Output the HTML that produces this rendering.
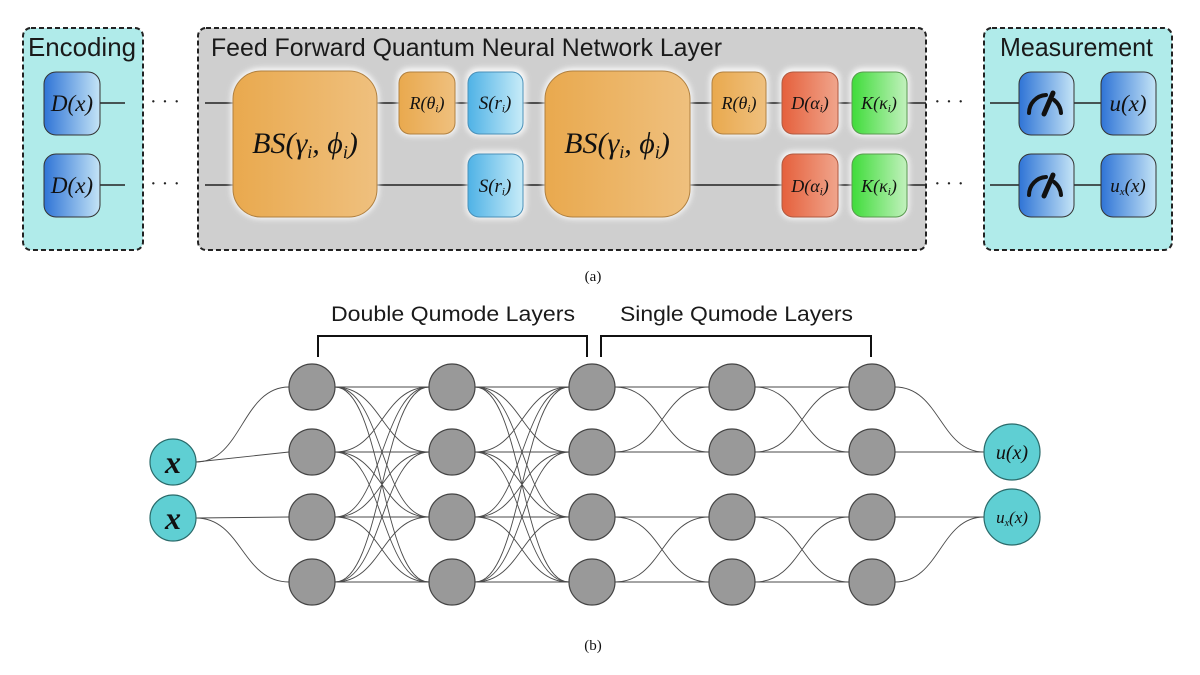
<!DOCTYPE html>
<html><head><meta charset="utf-8"><style>
html,body{margin:0;padding:0;background:#fff;}
svg{display:block;}
.m{font-family:"Liberation Serif",serif;font-style:italic;fill:#111;}
.s{font-family:"Liberation Sans",sans-serif;fill:#1a1a1a;}
.w{stroke:#222;stroke-width:1.4;fill:none;}
.e{stroke:#4a4a4a;stroke-width:0.9;fill:none;}
.n{fill:#999;stroke:#444;stroke-width:1.2;}
</style></head><body>
<svg width="1200" height="675" viewBox="0 0 1200 675" xmlns="http://www.w3.org/2000/svg">
<defs>
<linearGradient id="blue" x1="0" y1="0" x2="1" y2="0"><stop offset="0" stop-color="#2f74d6"/><stop offset="1" stop-color="#c4e4f6"/></linearGradient>
<linearGradient id="cyan" x1="0" y1="0" x2="1" y2="0"><stop offset="0" stop-color="#4fb2e6"/><stop offset="1" stop-color="#c8ecf8"/></linearGradient>
<linearGradient id="org" x1="0" y1="0" x2="1" y2="0"><stop offset="0" stop-color="#e9a94e"/><stop offset="1" stop-color="#efc07e"/></linearGradient>
<linearGradient id="red" x1="0" y1="0" x2="1" y2="0"><stop offset="0" stop-color="#e5603c"/><stop offset="1" stop-color="#f0a58c"/></linearGradient>
<linearGradient id="grn" x1="0" y1="0" x2="1" y2="0"><stop offset="0" stop-color="#3fdc3a"/><stop offset="1" stop-color="#c2f1bd"/></linearGradient>
<filter id="glow" x="-20%" y="-20%" width="140%" height="140%"><feGaussianBlur stdDeviation="3"/></filter>
</defs>

<rect x="23" y="28" width="120" height="222" rx="8" fill="#b0ebea" stroke="#222" stroke-width="2" stroke-dasharray="5,3"/>
<rect x="198" y="28" width="728" height="222" rx="8" fill="#cfcfcf" stroke="#222" stroke-width="2" stroke-dasharray="5,3"/>
<rect x="984" y="28" width="188" height="222" rx="8" fill="#b0ebea" stroke="#222" stroke-width="2" stroke-dasharray="5,3"/>
<text x="28" y="56" class="s" font-size="26" textLength="108" lengthAdjust="spacingAndGlyphs">Encoding</text>
<text x="211" y="56" class="s" font-size="25" textLength="511" lengthAdjust="spacingAndGlyphs">Feed Forward Quantum Neural Network Layer</text>
<text x="1000" y="56" class="s" font-size="26" textLength="153" lengthAdjust="spacingAndGlyphs">Measurement</text>

<line class="w" x1="100" y1="103" x2="125" y2="103"/><line class="w" x1="100" y1="185" x2="125" y2="185"/>
<line class="w" x1="205" y1="103" x2="926" y2="103"/><line class="w" x1="205" y1="185" x2="926" y2="185"/>
<line class="w" x1="990" y1="103" x2="1101" y2="103"/><line class="w" x1="990" y1="185" x2="1101" y2="185"/>
<text x="150" y="108" font-size="20" fill="#222" font-family="Liberation Serif">·  ·  ·</text>
<text x="150" y="190" font-size="20" fill="#222" font-family="Liberation Serif">·  ·  ·</text>
<text x="934" y="108" font-size="20" fill="#222" font-family="Liberation Serif">·  ·  ·</text>
<text x="934" y="190" font-size="20" fill="#222" font-family="Liberation Serif">·  ·  ·</text>

<g filter="url(#glow)" fill="#fff" opacity="0.9">
<rect x="231" y="68" width="148" height="151" rx="30"/><rect x="543" y="68" width="149" height="151" rx="30"/>
<rect x="397" y="68" width="60" height="68" rx="12"/><rect x="466" y="68" width="60" height="68" rx="12"/><rect x="466" y="151" width="60" height="68" rx="12"/>
<rect x="710" y="68" width="58" height="68" rx="12"/><rect x="780" y="68" width="60" height="68" rx="12"/><rect x="780" y="151" width="60" height="68" rx="12"/>
<rect x="850" y="68" width="59" height="68" rx="12"/><rect x="850" y="151" width="59" height="68" rx="12"/>
</g>

<rect x="44" y="72" width="56" height="63" rx="12" fill="url(#blue)" stroke="#333"/>
<rect x="44" y="154" width="56" height="63" rx="12" fill="url(#blue)" stroke="#333"/>
<text x="72" y="111" class="m" font-size="23" text-anchor="middle">D(x)</text>
<text x="72" y="193" class="m" font-size="23" text-anchor="middle">D(x)</text>

<rect x="233" y="71" width="144" height="146" rx="28" fill="url(#org)" stroke="#b08040"/>
<rect x="545" y="71" width="145" height="146" rx="28" fill="url(#org)" stroke="#b08040"/>
<text x="305" y="153" class="m" font-size="30" text-anchor="middle">BS(γ<tspan font-size="18" dy="5">i</tspan><tspan dy="-5">, ϕ</tspan><tspan font-size="18" dy="5">i</tspan><tspan dy="-5">)</tspan></text>
<text x="617" y="153" class="m" font-size="30" text-anchor="middle">BS(γ<tspan font-size="18" dy="5">i</tspan><tspan dy="-5">, ϕ</tspan><tspan font-size="18" dy="5">i</tspan><tspan dy="-5">)</tspan></text>

<rect x="399" y="72" width="56" height="62" rx="11" fill="url(#org)" stroke="#b08040"/>
<text x="427" y="109" class="m" font-size="18" text-anchor="middle">R(θ<tspan font-size="11" dy="3">i</tspan><tspan dy="-3">)</tspan></text>
<rect x="468" y="72" width="55" height="62" rx="11" fill="url(#cyan)" stroke="#4a90b8"/>
<text x="495" y="109" class="m" font-size="19" text-anchor="middle">S(r<tspan font-size="11" dy="3">i</tspan><tspan dy="-3">)</tspan></text>
<rect x="468" y="154" width="55" height="63" rx="11" fill="url(#cyan)" stroke="#4a90b8"/>
<text x="495" y="192" class="m" font-size="19" text-anchor="middle">S(r<tspan font-size="11" dy="3">i</tspan><tspan dy="-3">)</tspan></text>

<rect x="712" y="72" width="54" height="62" rx="11" fill="url(#org)" stroke="#b08040"/>
<text x="739" y="109" class="m" font-size="18" text-anchor="middle">R(θ<tspan font-size="11" dy="3">i</tspan><tspan dy="-3">)</tspan></text>
<rect x="782" y="72" width="56" height="62" rx="11" fill="url(#red)" stroke="#b05a40"/>
<text x="810" y="109" class="m" font-size="18" text-anchor="middle">D(α<tspan font-size="11" dy="3">i</tspan><tspan dy="-3">)</tspan></text>
<rect x="782" y="154" width="56" height="63" rx="11" fill="url(#red)" stroke="#b05a40"/>
<text x="810" y="192" class="m" font-size="18" text-anchor="middle">D(α<tspan font-size="11" dy="3">i</tspan><tspan dy="-3">)</tspan></text>
<rect x="852" y="72" width="55" height="62" rx="11" fill="url(#grn)" stroke="#5a9a50"/>
<text x="879" y="109" class="m" font-size="18" text-anchor="middle">K(κ<tspan font-size="11" dy="3">i</tspan><tspan dy="-3">)</tspan></text>
<rect x="852" y="154" width="55" height="63" rx="11" fill="url(#grn)" stroke="#5a9a50"/>
<text x="879" y="192" class="m" font-size="18" text-anchor="middle">K(κ<tspan font-size="11" dy="3">i</tspan><tspan dy="-3">)</tspan></text>

<rect x="1019" y="72" width="55" height="63" rx="12" fill="url(#blue)" stroke="#333"/>
<rect x="1019" y="154" width="55" height="63" rx="12" fill="url(#blue)" stroke="#333"/>
<rect x="1101" y="72" width="55" height="63" rx="12" fill="url(#blue)" stroke="#333"/>
<rect x="1101" y="154" width="55" height="63" rx="12" fill="url(#blue)" stroke="#333"/>
<g stroke="#111" stroke-width="4" fill="none" stroke-linecap="round">
<path d="M1029 113 A18 18 0 0 1 1046 95"/><path d="M1054 100 A18 18 0 0 1 1061 113"/><line x1="1044" y1="114" x2="1053" y2="93" stroke-width="5"/>
<path d="M1029 195 A18 18 0 0 1 1046 177"/><path d="M1054 182 A18 18 0 0 1 1061 195"/><line x1="1044" y1="196" x2="1053" y2="175" stroke-width="5"/>
</g>
<text x="1128" y="111" class="m" font-size="23" text-anchor="middle">u(x)</text>
<text x="1128" y="192" class="m" font-size="19" text-anchor="middle">u<tspan font-size="11" dy="3">x</tspan><tspan dy="-3">(x)</tspan></text>

<text x="593" y="281" font-family="Liberation Serif" font-size="15" text-anchor="middle" fill="#111">(a)</text>

<text x="331" y="321" class="s" font-size="21" textLength="244" lengthAdjust="spacingAndGlyphs" font-family="DejaVu Sans">Double Qumode Layers</text>
<text x="620" y="321" class="s" font-size="21" textLength="233" lengthAdjust="spacingAndGlyphs" font-family="DejaVu Sans">Single Qumode Layers</text>
<path d="M318 357 V336 H587 V357" stroke="#111" stroke-width="2" fill="none"/>
<path d="M601 357 V336 H871 V357" stroke="#111" stroke-width="2" fill="none"/>

<g class="e">
<path d="M196 462 C242 462 242 387 289 387"/><path d="M196 462 L289 452"/>
<path d="M196 518 L289 517"/><path d="M196 518 C242 518 242 582 289 582"/>
<path d="M335 387 L429 387"/><path d="M335 387 C382 387 382 452 429 452"/><path d="M335 387 C382 387 382 517 429 517"/><path d="M335 387 C382 387 382 582 429 582"/>
<path d="M335 452 C382 452 382 387 429 387"/><path d="M335 452 L429 452"/><path d="M335 452 C382 452 382 517 429 517"/><path d="M335 452 C382 452 382 582 429 582"/>
<path d="M335 517 C382 517 382 387 429 387"/><path d="M335 517 C382 517 382 452 429 452"/><path d="M335 517 L429 517"/><path d="M335 517 C382 517 382 582 429 582"/>
<path d="M335 582 C382 582 382 387 429 387"/><path d="M335 582 C382 582 382 452 429 452"/><path d="M335 582 C382 582 382 517 429 517"/><path d="M335 582 L429 582"/>
<path d="M475 387 L569 387"/><path d="M475 387 C522 387 522 452 569 452"/><path d="M475 387 C522 387 522 517 569 517"/><path d="M475 387 C522 387 522 582 569 582"/>
<path d="M475 452 C522 452 522 387 569 387"/><path d="M475 452 L569 452"/><path d="M475 452 C522 452 522 517 569 517"/><path d="M475 452 C522 452 522 582 569 582"/>
<path d="M475 517 C522 517 522 387 569 387"/><path d="M475 517 C522 517 522 452 569 452"/><path d="M475 517 L569 517"/><path d="M475 517 C522 517 522 582 569 582"/>
<path d="M475 582 C522 582 522 387 569 387"/><path d="M475 582 C522 582 522 452 569 452"/><path d="M475 582 C522 582 522 517 569 517"/><path d="M475 582 L569 582"/>
<path d="M615 387 L709 387"/><path d="M615 387 C662 387 662 452 709 452"/><path d="M615 452 C662 452 662 387 709 387"/><path d="M615 452 L709 452"/>
<path d="M615 517 L709 517"/><path d="M615 517 C662 517 662 582 709 582"/><path d="M615 582 C662 582 662 517 709 517"/><path d="M615 582 L709 582"/>
<path d="M755 387 L849 387"/><path d="M755 387 C802 387 802 452 849 452"/><path d="M755 452 C802 452 802 387 849 387"/><path d="M755 452 L849 452"/>
<path d="M755 517 L849 517"/><path d="M755 517 C802 517 802 582 849 582"/><path d="M755 582 C802 582 802 517 849 517"/><path d="M755 582 L849 582"/>
<path d="M895 387 C940 387 940 452 984 452"/><path d="M895 452 L984 452"/>
<path d="M895 517 L984 517"/><path d="M895 582 C940 582 940 517 984 517"/>
</g>

<g class="n">
<circle cx="312" cy="387" r="23"/><circle cx="312" cy="452" r="23"/><circle cx="312" cy="517" r="23"/><circle cx="312" cy="582" r="23"/>
<circle cx="452" cy="387" r="23"/><circle cx="452" cy="452" r="23"/><circle cx="452" cy="517" r="23"/><circle cx="452" cy="582" r="23"/>
<circle cx="592" cy="387" r="23"/><circle cx="592" cy="452" r="23"/><circle cx="592" cy="517" r="23"/><circle cx="592" cy="582" r="23"/>
<circle cx="732" cy="387" r="23"/><circle cx="732" cy="452" r="23"/><circle cx="732" cy="517" r="23"/><circle cx="732" cy="582" r="23"/>
<circle cx="872" cy="387" r="23"/><circle cx="872" cy="452" r="23"/><circle cx="872" cy="517" r="23"/><circle cx="872" cy="582" r="23"/>
</g>
<circle cx="173" cy="462" r="23" fill="#5fcfd3" stroke="#2a6a6a" stroke-width="1.2"/>
<circle cx="173" cy="518" r="23" fill="#5fcfd3" stroke="#2a6a6a" stroke-width="1.2"/>
<text x="173" y="473" class="m" font-size="32" font-weight="bold" text-anchor="middle">x</text>
<text x="173" y="529" class="m" font-size="32" font-weight="bold" text-anchor="middle">x</text>
<circle cx="1012" cy="452" r="28" fill="#5fcfd3" stroke="#2a6a6a" stroke-width="1.2"/>
<circle cx="1012" cy="517" r="28" fill="#5fcfd3" stroke="#2a6a6a" stroke-width="1.2"/>
<text x="1012" y="459" class="m" font-size="20" text-anchor="middle">u(x)</text>
<text x="1012" y="523" class="m" font-size="17" text-anchor="middle">u<tspan font-size="10" dy="3">x</tspan><tspan dy="-3">(x)</tspan></text>

<text x="593" y="650" font-family="Liberation Serif" font-size="15" text-anchor="middle" fill="#111">(b)</text>
</svg>
</body></html>
